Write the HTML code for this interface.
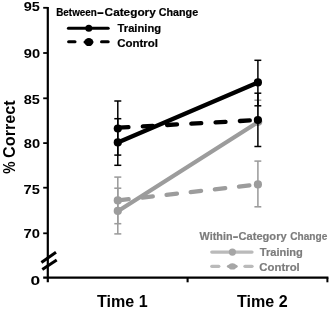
<!DOCTYPE html>
<html>
<head>
<meta charset="utf-8">
<title>Chart</title>
<style>
html,body{margin:0;padding:0;background:#fff;}
body{width:331px;height:310px;overflow:hidden;}
svg{display:block;}
text{font-family:"Liberation Sans",sans-serif;font-weight:bold;}
</style>
</head>
<body>
<svg width="331" height="310" viewBox="0 0 331 310">
<rect x="0" y="0" width="331" height="310" fill="#ffffff"/>

<!-- axes -->
<g stroke="#000" stroke-width="2.2" fill="none" stroke-linecap="butt">
  <line x1="47.8" y1="6.9" x2="47.8" y2="282.3"/>
  <line x1="43.2" y1="277.6" x2="328.4" y2="277.6" stroke-width="2.4"/>
  <!-- y ticks -->
  <g stroke-width="1.8">
  <line x1="43.2" y1="7.8" x2="47.8" y2="7.8"/>
  <line x1="43.2" y1="53" x2="47.8" y2="53"/>
  <line x1="43.2" y1="98.3" x2="47.8" y2="98.3"/>
  <line x1="43.2" y1="143.1" x2="47.8" y2="143.1"/>
  <line x1="43.2" y1="187.7" x2="47.8" y2="187.7"/>
  <line x1="43.2" y1="233.3" x2="47.8" y2="233.3"/>
  </g>
  <!-- x ticks -->
  <line x1="187.6" y1="277.6" x2="187.6" y2="282.3" stroke-width="2.1"/>
  <line x1="327.4" y1="277.6" x2="327.4" y2="282.3" stroke-width="2"/>
  <!-- axis break -->
  <line x1="41.4" y1="262.4" x2="56" y2="252.3" stroke-width="3"/>
  <line x1="42.3" y1="269.4" x2="56.7" y2="260.1" stroke-width="3"/>
</g>

<!-- y tick labels -->
<g font-size="12.8" fill="#000">
  <text x="23.75" y="11.4" textLength="16.17" lengthAdjust="spacingAndGlyphs">95</text>
  <text x="23.75" y="57.6" textLength="16.31" lengthAdjust="spacingAndGlyphs">90</text>
  <text x="23.75" y="103.6" textLength="16.17" lengthAdjust="spacingAndGlyphs">85</text>
  <text x="23.75" y="147.6" textLength="16.31" lengthAdjust="spacingAndGlyphs">80</text>
  <text x="23.62" y="194.1" textLength="16.31" lengthAdjust="spacingAndGlyphs">75</text>
  <text x="23.62" y="237.5" textLength="16.45" lengthAdjust="spacingAndGlyphs">70</text>
  <text x="30.5" y="284.5" textLength="9.68" lengthAdjust="spacingAndGlyphs">0</text>
</g>

<!-- y axis title -->
<text transform="translate(14.9,173.5) rotate(-90)" font-size="16" fill="#000" y="0"><tspan x="-0.25" textLength="12.29" lengthAdjust="spacingAndGlyphs">%</tspan> <tspan x="15.63" textLength="57.51" lengthAdjust="spacingAndGlyphs">Correct</tspan></text>

<!-- x labels -->
<g font-size="16" fill="#000">
  <text x="97" y="306.7" textLength="50.6" lengthAdjust="spacingAndGlyphs">Time 1</text>
  <text x="237" y="306.7" textLength="50.6" lengthAdjust="spacingAndGlyphs">Time 2</text>
</g>

<!-- gray error bars -->
<g stroke="#9c9c9c" stroke-width="1.55" fill="none">
  <line x1="117.8" y1="177.1" x2="117.8" y2="223.7"/>
  <line x1="114.3" y1="177.1" x2="121.3" y2="177.1"/>
  <line x1="114.3" y1="223.7" x2="121.3" y2="223.7"/>
  <line x1="117.8" y1="188.2" x2="117.8" y2="233.9"/>
  <line x1="114.3" y1="188.2" x2="121.3" y2="188.2"/>
  <line x1="114.3" y1="233.9" x2="121.3" y2="233.9"/>
  <line x1="257.9" y1="161.1" x2="257.9" y2="206.8"/>
  <line x1="254.4" y1="161.1" x2="261.3" y2="161.1"/>
  <line x1="254.4" y1="206.8" x2="261.3" y2="206.8"/>
  <line x1="257.9" y1="100.2" x2="257.9" y2="121.8"/>
  <line x1="254.4" y1="100.2" x2="261.3" y2="100.2"/>
</g>

<!-- gray lines -->
<g stroke="#9c9c9c" stroke-width="4.2" fill="none" stroke-linecap="round">
  <line x1="117.8" y1="211.2" x2="258.2" y2="122.1"/>
  <line x1="117.8" y1="200.4" x2="257.9" y2="184.4" stroke-dasharray="10.6 13.7" stroke-dashoffset="-0.4"/>
</g>
<g fill="#9c9c9c">
  <circle cx="117.8" cy="210.9" r="4.1"/>
  <circle cx="258.2" cy="121.8" r="4.1"/>
  <circle cx="117.8" cy="200.4" r="4.1"/>
  <circle cx="257.9" cy="184.4" r="4.1"/>
</g>

<!-- black error bars -->
<g stroke="#000" stroke-width="1.5" fill="none">
  <line x1="117.8" y1="101" x2="117.8" y2="155.1"/>
  <line x1="114.3" y1="101" x2="121.3" y2="101"/>
  <line x1="114.3" y1="155.1" x2="121.3" y2="155.1"/>
  <line x1="117.8" y1="118.7" x2="117.8" y2="165.3"/>
  <line x1="114.3" y1="118.7" x2="121.3" y2="118.7"/>
  <line x1="114.3" y1="165.3" x2="121.3" y2="165.3"/>
  <line x1="257.9" y1="60.3" x2="257.9" y2="105.8"/>
  <line x1="254.4" y1="60.3" x2="261.3" y2="60.3"/>
  <line x1="254.4" y1="105.8" x2="261.3" y2="105.8"/>
  <line x1="257.9" y1="93.2" x2="257.9" y2="146.5"/>
  <line x1="254.4" y1="93.2" x2="261.3" y2="93.2"/>
  <line x1="254.4" y1="146.5" x2="261.3" y2="146.5"/>
</g>

<!-- black lines -->
<g stroke="#000" stroke-width="4.3" fill="none" stroke-linecap="round">
  <line x1="117.8" y1="142.4" x2="257.9" y2="82.4"/>
  <line x1="117.8" y1="127.7" x2="257.9" y2="120" stroke-dasharray="10 14.3" stroke-dashoffset="-0.7"/>
</g>
<g fill="#000">
  <circle cx="117.8" cy="142.4" r="4.1"/>
  <circle cx="257.9" cy="82.45" r="4.1"/>
  <circle cx="117.8" cy="128.5" r="4.1"/>
  <circle cx="257.9" cy="120" r="4.1"/>
</g>

<!-- black legend -->
<g font-size="10.6" fill="#000" stroke="#000" stroke-width="0.2">
  <text y="16.3"><tspan x="56.25" textLength="40.53" lengthAdjust="spacingAndGlyphs">Between</tspan><tspan x="96.87" textLength="7.28" lengthAdjust="spacingAndGlyphs" font-size="15" y="17.3">-</tspan><tspan x="104.62" textLength="51.13" lengthAdjust="spacingAndGlyphs" y="16.3">Category</tspan> <tspan x="158.75" textLength="39.39" lengthAdjust="spacingAndGlyphs">Change</tspan></text>
  <text x="117.63" y="31.9" textLength="43.39" lengthAdjust="spacingAndGlyphs">Training</text>
  <text x="117.25" y="47.0" textLength="40.79" lengthAdjust="spacingAndGlyphs">Control</text>
</g>
<g stroke="#000" stroke-width="3" fill="none" stroke-linecap="round">
  <line x1="68.4" y1="28.3" x2="108.2" y2="28.3"/>
  <line x1="68.6" y1="41.8" x2="75" y2="41.8"/>
  <line x1="101.5" y1="41.8" x2="108.2" y2="41.8"/>
  <line x1="85" y1="41.9" x2="92" y2="41.9"/>
</g>
<circle cx="88.8" cy="28.3" r="3.5" fill="#000"/>
<ellipse cx="88.8" cy="42.1" rx="4.4" ry="4" fill="#000"/>

<!-- gray legend -->
<g font-size="10.6" fill="#7c7c7c" stroke="#7c7c7c" stroke-width="0.2">
  <text y="240.1"><tspan x="199.62" textLength="32.89" lengthAdjust="spacingAndGlyphs">Within</tspan><tspan x="232.63" textLength="6.06" lengthAdjust="spacingAndGlyphs" font-size="15" y="241.1">-</tspan><tspan x="238.5" textLength="48.13" lengthAdjust="spacingAndGlyphs" y="240.1">Category</tspan> <tspan x="290.25" textLength="37.02" lengthAdjust="spacingAndGlyphs">Change</tspan></text>
  <text x="259.75" y="256.0" textLength="43.14" lengthAdjust="spacingAndGlyphs">Training</text>
  <text x="259.38" y="271.4" textLength="40.41" lengthAdjust="spacingAndGlyphs">Control</text>
</g>
<g stroke="#bababa" stroke-width="3.3" fill="none" stroke-linecap="round">
  <line x1="211.8" y1="252.1" x2="252" y2="252.1"/>
  <line x1="211.8" y1="266.3" x2="218.8" y2="266.3"/>
  <line x1="245" y1="266.3" x2="252" y2="266.3"/>
  <line x1="228.6" y1="266.3" x2="236" y2="266.3" stroke="#a6a6a6"/>
</g>
<circle cx="232.4" cy="252.1" r="3.6" fill="#a6a6a6"/>
<ellipse cx="232.4" cy="266.4" rx="3.7" ry="3.2" fill="#a6a6a6"/>
</svg>
</body>
</html>
